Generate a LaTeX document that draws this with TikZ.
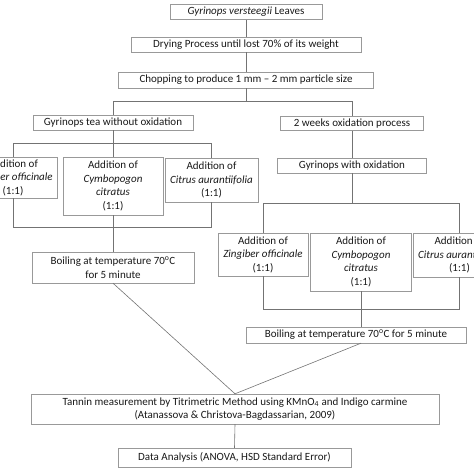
\documentclass[tikz,border=0pt]{standalone}
\usepackage{fontspec}
\setmainfont{Carlito}
\usepackage{tikz}

\begin{document}
\begin{tikzpicture}[x=1pt,y=-1pt,
    box/.style={draw=black!40,fill=white,text=black!90,align=center,
        inner sep=0pt,font=\fontsize{11}{13.5}\selectfont},
    link/.style={draw=black!55,semithick}]
    \clip (0,0) rectangle (474,474);

    % top chain
    \node[box,minimum width=152,minimum height=15] (leaves) at (246,12) {\textit{Gyrinops versteegii} Leaves};
    \node[box,minimum width=230,minimum height=15] (drying) at (246,44.5) {Drying Process until lost 70\% of its weight};
    \node[box,minimum width=255,minimum height=16] (chop) at (246,80) {Chopping to produce 1 mm -- 2 mm particle size};

    % without oxidation
    \node[box,minimum width=160,minimum height=15] (teanox) at (113,122.5) {Gyrinops tea without oxidation};
    \node[box,minimum width=88,minimum height=41] (adda) at (13,177.5) {Addition of\\ \textit{Zingiber officinale}\\ (1:1)};
    \node[box,minimum width=100,minimum height=58] (addb) at (113,186) {Addition of\\ \textit{Cymbopogon}\\ \textit{citratus}\\ (1:1)};
    \node[box,minimum width=93,minimum height=44] (addc) at (211.5,180) {Addition of\\ \textit{Citrus aurantiifolia}\\ (1:1)};
    \node[box,minimum width=162,minimum height=31] (boila) at (113,267.5) {Boiling at temperature 70\textsuperscript{o}C\\ for 5 minute};

    % with oxidation
    \node[box,minimum width=143,minimum height=14] (oxproc) at (352,123.5) {2 weeks oxidation process};
    \node[box,minimum width=149,minimum height=15] (oxgyr) at (352,165.5) {Gyrinops with oxidation};
    \node[box,minimum width=90,minimum height=43] (addd) at (263,254.5) {Addition of\\ \textit{Zingiber officinale}\\ (1:1)};
    \node[box,minimum width=101,minimum height=58] (adde) at (361,262) {Addition of\\ \textit{Cymbopogon}\\ \textit{citratus}\\ (1:1)};
    \node[box,minimum width=93,minimum height=44] (addf) at (459.5,255) {Addition of\\ \textit{Citrus aurantiifolia}\\ (1:1)};
    \node[box,minimum width=220,minimum height=16] (boilb) at (356,335) {Boiling at temperature 70\textsuperscript{o}C for 5 minute};

    % analysis
    \node[box,minimum width=408,minimum height=30] (tannin) at (235,409) {Tannin measurement by Titrimetric Method using KMnO\textsubscript{4} and Indigo carmine\\ (Atanassova \& Christova-Bagdassarian, 2009)};
    \node[box,minimum width=233,minimum height=19] (data) at (234.5,457.5) {Data Analysis (ANOVA, HSD Standard Error)};

    \coordinate (bus1) at (0,101);
    \coordinate (bus2) at (0,143);
    \coordinate (bus3) at (0,227);
    \coordinate (bus4) at (0,203);
    \coordinate (bus5) at (0,309);

    \draw[link] (leaves) -- (drying);
    \draw[link] (drying) -- (chop);
    \draw[link] (chop.south) -- (chop.south |- bus1);
    \draw[link] (teanox.north) |- (bus1 -| oxproc.north) -- (oxproc.north);

    \draw[link] (teanox.south) -- (addb.north);
    \draw[link] (adda.north) |- (bus2 -| addc.north) -- (addc.north);
    \draw[link] (adda.south) |- (bus3 -| addc.south) -- (addc.south);
    \draw[link] (addb.south) -- (boila.north);

    \draw[link] (oxproc.south) -- (oxgyr.north);
    \draw[link] (oxgyr.south) -- (oxgyr.south |- bus4);
    \draw[link] (addd.north) |- (bus4 -| addf.north) -- (addf.north);
    \draw[link] (addd.south) |- (bus5 -| addf.south) -- (addf.south);
    \draw[link] (adde.south) -- (adde.south |- boilb.north);

    \draw[link] (boila.south) -- (tannin.north);
    \draw[link] (boilb.south -| adde.south) -- (tannin.north);
    \draw[link] (tannin.south) -- (data.north);
\end{tikzpicture}
\end{document}
